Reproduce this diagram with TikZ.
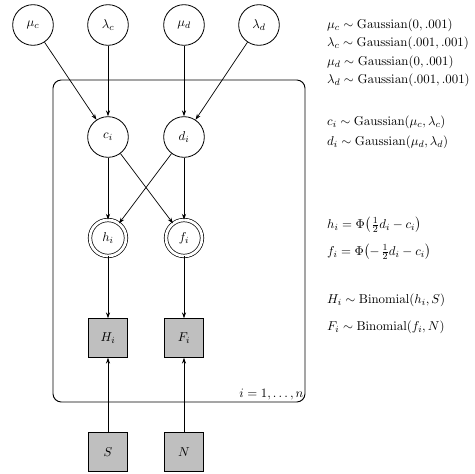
\documentclass[tikz,border=0pt]{standalone}
\usepackage{amsmath}
\usetikzlibrary{arrows.meta}
\begin{document}
\begin{tikzpicture}[x=0.03cm,y=-0.03cm,
    every node/.style={font=\fontsize{10.8}{13}\selectfont},
    latent/.style={circle,draw,line width=0.7pt,minimum size=1.22cm,inner sep=0pt},
    detnode/.style={circle,draw,double,double distance=2.4pt,line width=0.6pt,minimum size=1.08cm,inner sep=0pt},
    obs/.style={rectangle,draw,fill=black!25,line width=0.7pt,minimum size=1.16cm,inner sep=0pt},
    edge/.style={-{Stealth[length=5pt,width=3.5pt]},line width=0.6pt},
    eqn/.style={anchor=west,inner sep=0pt}]
  \useasboundingbox (0,0) rectangle (474,474);

  % plate
  \node[draw,line width=0.8pt,rounded corners=0.25cm,minimum width=7.56cm,minimum height=9.66cm,inner sep=0pt] (plate) at (179,241) {};
  \node[anchor=south east,inner sep=1.5pt] (platelabel) at (plate.south east) {$i = 1, \ldots, n$};

  % hyperparameters
  \node[latent] (muc) at (33,25) {$\mu_c$};
  \node[latent] (lamc) at (108,25) {$\lambda_c$};
  \node[latent] (mud) at (184,25) {$\mu_d$};
  \node[latent] (lamd) at (259,25) {$\lambda_d$};

  \node[latent] (c) at (108,137) {$c_i$};
  \node[latent] (d) at (184,137) {$d_i$};

  \node[detnode] (h) at (108,238) {$h_i$};
  \node[detnode] (f) at (184,238) {$f_i$};

  \node[obs] (H) at (108,338) {$H_i$};
  \node[obs] (F) at (184,338) {$F_i$};

  \node[obs] (S) at (108,452) {$S$};
  \node[obs] (N) at (184,452) {$N$};

  \draw[edge] (muc) -- (c);
  \draw[edge] (lamc) -- (c);
  \draw[edge] (mud) -- (d);
  \draw[edge] (lamd) -- (d);
  \foreach \a in {c,d} {
    \foreach \b in {h,f} {
      \draw[edge] (\a) -- (\b);
    }
  }
  \draw[edge] (h) -- (H);
  \draw[edge] (f) -- (F);
  \draw[edge] (S) -- (H);
  \draw[edge] (N) -- (F);

  % 式をならべる
  \node[eqn] (eqmuc) at (327,25) {$\mu_c \sim \mathrm{Gaussian}(0, .001)$};
  \node[eqn] (eqlamc) at (327,43.5) {$\lambda_c \sim \mathrm{Gaussian}(.001, .001)$};
  \node[eqn] (eqmud) at (327,62) {$\mu_d \sim \mathrm{Gaussian}(0, .001)$};
  \node[eqn] (eqlamd) at (327,80.5) {$\lambda_d \sim \mathrm{Gaussian}(.001, .001)$};
  \node[eqn] (eqc) at (327,122) {$c_i \sim \mathrm{Gaussian}(\mu_c, \lambda_c)$};
  \node[eqn] (eqd) at (327,142) {$d_i \sim \mathrm{Gaussian}(\mu_d, \lambda_d)$};
  \node[eqn] (eqh) at (327,225) {$h_i = \Phi\bigl(\mkern1mu\tfrac{1}{2}d_i - c_i\bigr)$};
  \node[eqn] (eqf) at (327,252) {$f_i = \Phi\bigl(-\mkern2mu\tfrac{1}{2}d_i - c_i\bigr)$};
  \node[eqn] (eqH) at (327,300) {$H_i \sim \mathrm{Binomial}(h_i, S)$};
  \node[eqn] (eqF) at (327,327) {$F_i \sim \mathrm{Binomial}(f_i, N)$};
\end{tikzpicture}
\end{document}
